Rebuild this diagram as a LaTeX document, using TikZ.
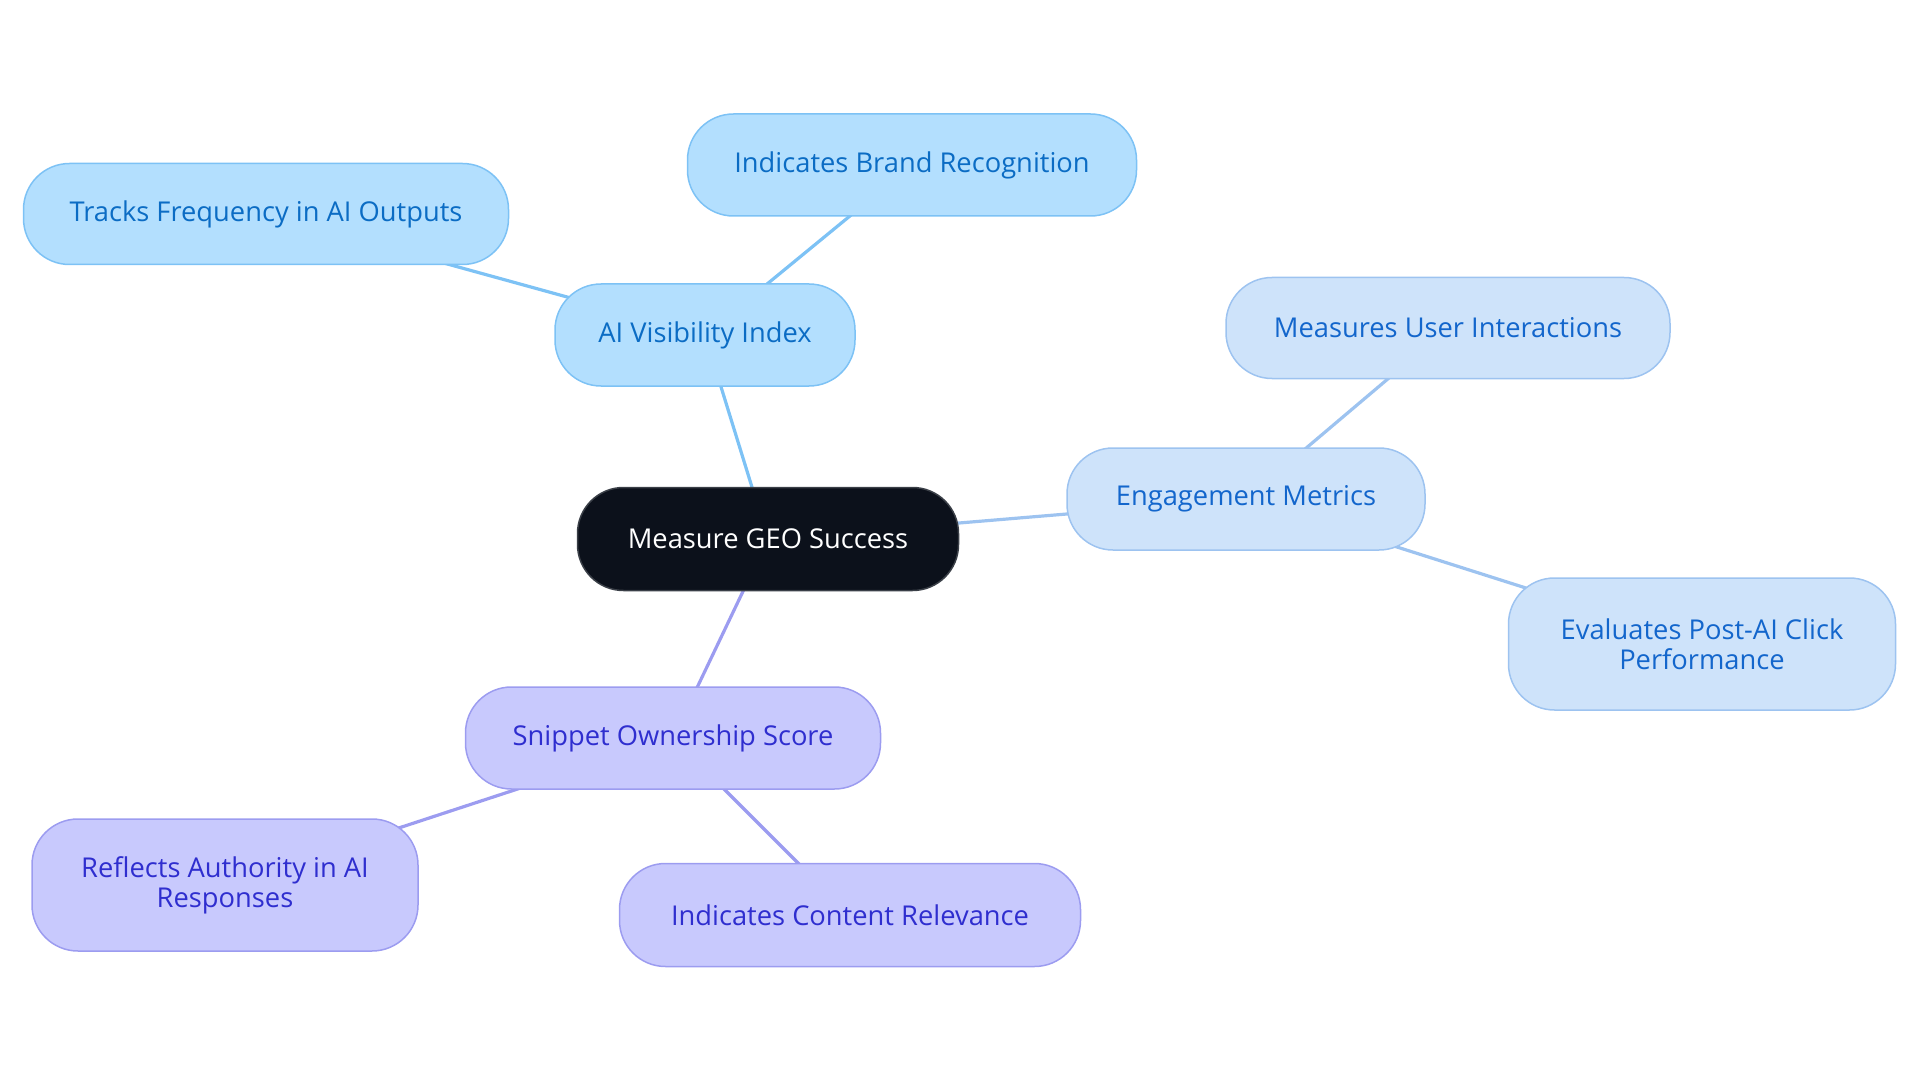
\documentclass[tikz,border=0pt]{standalone}
\usepackage{fontspec}
\setmainfont{Open Sans}
\usetikzlibrary{backgrounds}

\definecolor{rootfill}{HTML}{0C111B}
\definecolor{rootline}{HTML}{3A3F47}
\definecolor{aivfill}{HTML}{B3DFFE}
\definecolor{aivline}{HTML}{7DC2F5}
\definecolor{aivtext}{HTML}{0B6CC4}
\definecolor{engfill}{HTML}{CEE3FA}
\definecolor{engline}{HTML}{9DC3F0}
\definecolor{engtext}{HTML}{1366CC}
\definecolor{snipfill}{HTML}{C8C9FD}
\definecolor{snipline}{HTML}{9C9CF0}
\definecolor{sniptext}{HTML}{2F2ECF}

\tikzset{
	mapbox/.style={rounded corners=46pt, line width=1.5pt, align=center, inner sep=0pt,
		font=\fontsize{27.3}{30}\selectfont},
	rootbox/.style={mapbox, fill=rootfill, draw=rootline, text=white},
	aivbox/.style={mapbox, fill=aivfill, draw=aivline, text=aivtext},
	engbox/.style={mapbox, fill=engfill, draw=engline, text=engtext},
	snipbox/.style={mapbox, fill=snipfill, draw=snipline, text=sniptext},
}

\begin{document}
\begin{tikzpicture}[x=1pt, y=-1pt]
		\useasboundingbox (0,0) rectangle (1920,1083);
		
		\node[rootbox, minimum width=381pt, minimum height=103pt] (root) at (768,539) {Measure GEO Success};
		
		\node[aivbox, minimum width=300pt, minimum height=102pt] (aiv) at (705,335) {AI Visibility Index};
		\node[aivbox, minimum width=449pt, minimum height=102pt] (brand) at (912,165) {Indicates Brand Recognition};
		\node[aivbox, minimum width=485pt, minimum height=101pt] (tracks) at (266,214) {Tracks Frequency in AI Outputs};
		
		\node[engbox, minimum width=358pt, minimum height=102pt] (eng) at (1246,499) {Engagement Metrics};
		\node[engbox, minimum width=444pt, minimum height=101pt] (users) at (1448,328) {Measures User Interactions};
		\node[engbox, minimum width=387pt, minimum height=132pt] (click) at (1702,644) {Evaluates Post-AI Click\\Performance};
		
		\node[snipbox, minimum width=415pt, minimum height=102pt] (snip) at (673,738) {Snippet Ownership Score};
		\node[snipbox, minimum width=386pt, minimum height=132pt] (auth) at (225,885) {Reflects Authority in AI\\Responses};
		\node[snipbox, minimum width=461pt, minimum height=103pt] (content) at (850,915) {Indicates Content Relevance};
		
		\begin{scope}[on background layer]
			\foreach \a/\b/\c in {root/aiv/aivline, aiv/brand/aivline, aiv/tracks/aivline,
				root/eng/engline, eng/users/engline, eng/click/engline,
				root/snip/snipline, snip/auth/snipline, snip/content/snipline}
			{
				\draw[\c, line width=3.2pt] (\a.center) -- (\b.center);
			}
		\end{scope}
	\end{tikzpicture}
\end{document}
